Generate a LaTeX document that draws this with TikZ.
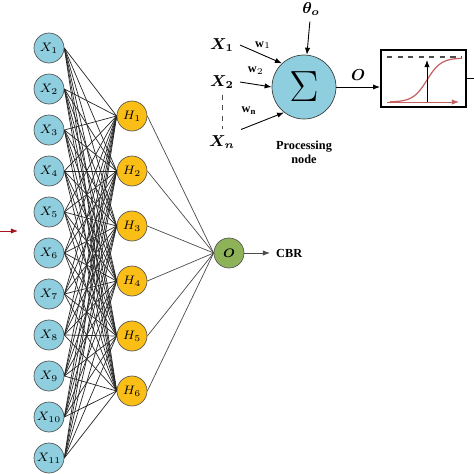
\documentclass[tikz,border=0pt]{standalone}
\usepackage{fontspec}
\setmainfont{Liberation Serif}
\usepackage{amsmath}
\usetikzlibrary{positioning,arrows.meta}
\definecolor{inblue}{RGB}{142,206,222}
\definecolor{hidorange}{RGB}{250,190,22}
\definecolor{outgreen}{RGB}{142,178,88}
\definecolor{sigred}{RGB}{196,96,96}
\definecolor{arrowred}{RGB}{170,20,30}

\begin{document}
\begin{tikzpicture}[x=0.02cm,y=-0.02cm,
    neuron/.style = {circle, draw=black!65, minimum size=0.6cm, inner sep=0pt, font=\scriptsize},
    link/.style = {black!85, line width=0.4pt},
    arr/.style = {-{Latex[length=4pt,width=3pt]}, line width=0.5pt}]
    \useasboundingbox (0,0) rectangle (474,474);

    % layers
    \foreach \i in {1,...,11}
        \node[neuron, fill=inblue] (X\i) at (49,{48+41*(\i-1)}) {$X_{\i}$};
    \foreach \j in {1,...,6}
        \node[neuron, fill=hidorange] (H\j) at (132,{116+55*(\j-1)}) {$H_{\j}$};
    \node[neuron, fill=outgreen] (O) at (229,253) {$\boldsymbol{O}$};
    \node[font=\scriptsize\bfseries, anchor=west] (CBR) at (270,253) {CBR};

    \foreach \i in {1,...,11}
        \foreach \j in {1,...,6}
            \draw[link] (X\i.east) -- (H\j.west);
    \foreach \j in {1,...,6}
        \draw[link, black!70] (H\j.east) -- (O.west);
    \draw[arr, black!70] (O) -- (CBR);

    \coordinate (in) at (0,231);
    \coordinate (inend) at (18,231);
    \draw[arr, arrowred] (in) -- (inend);

    % processing node
    \node[circle, draw=black!75, fill=inblue, minimum size=1.28cm, inner sep=0pt] (sum) at (304,87) {\fontsize{30}{30}\selectfont$\Sigma$};
    \node[font=\small] (theta) at (311,9) {$\boldsymbol{\theta_o}$};
    \node[font=\small] (xa) at (222,45) {$\boldsymbol{X_1}$};
    \node[font=\small] (xb) at (222,82) {$\boldsymbol{X_2}$};
    \node[font=\small] (xn) at (222,142) {$\boldsymbol{X_n}$};
    \draw[arr] (theta) -- (sum);
    \draw[arr] (xa.east) -- node[above, font=\scriptsize\bfseries, pos=0.55] {w$_1$} (sum.133);
    \draw[arr] (xb.east) -- node[above=2pt, font=\scriptsize\bfseries, pos=0.5] {w$_2$} (sum.west);
    \draw[arr] (xn.north east) -- node[above left, font=\scriptsize\bfseries, pos=0.5] {w$_\text{n}$} (sum.232);
    \draw[dashed, black!70] (xb.south) -- (xn.north);
    \node[font=\scriptsize\bfseries, align=center, below=0.3cm of sum] (proc) {Processing\\node};

    % activation box
    \node[draw, line width=1.1pt, minimum width=1.7cm, minimum height=1.14cm, inner sep=0pt] (act) at (423.5,78.5) {};
    \draw[arr] (sum.east) -- node[above, font=\small] {$\boldsymbol{O}$} (sum.east -| act.west);
    \coordinate (out) at (474,78.5);
    \draw[line width=0.5pt] (act.east) -- (out);
    \draw[dashed, black!70, line width=0.6pt] (387,57) -- (461,57);
    \draw[arr, sigred] (387,102) -- (459,102);
    \draw[sigred, line width=0.7pt, domain=390:462, samples=60] plot (\x,{102-44/(1+exp(-(\x-427)/7))});
    \draw[arr] (427,102) -- (427,60);
\end{tikzpicture}
\end{document}
